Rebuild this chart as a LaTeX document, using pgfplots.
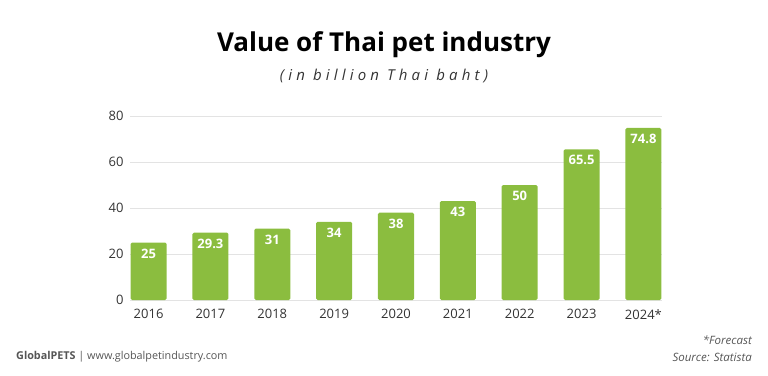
\documentclass[border=0pt]{standalone}
\usepackage{fontspec}
\setmainfont{Open Sans}
\usepackage{pgfplots}
\pgfplotsset{compat=1.18}
\definecolor{bargreen}{HTML}{8BBD3F}
\definecolor{gridgray}{HTML}{E3E3E3}
\definecolor{txt}{HTML}{333333}
\definecolor{foot}{HTML}{555555}
\begin{document}
\begin{tikzpicture}[x=1pt,y=1pt]
\path (0,0) rectangle (768,375);
\begin{axis}[
  at={(130pt,75pt)}, anchor=south west,
  scale only axis, width=532pt, height=184pt,
  xmin=-0.3, xmax=8.3, ymin=0, ymax=80,
  ytick={0,20,40,60,80},
  xtick={0,...,8},
  xticklabels={2016,2017,2018,2019,2020,2021,2022,2023,2024*},
  axis line style={draw=none},
  major tick length=0pt,
  ymajorgrids, grid style={gridgray, line width=0.8pt},
  /pgf/number format/assume math mode=true,
  tick label style={font=\fontsize{13}{15}\selectfont, text=txt},
  yticklabel style={xshift=-3pt},
  xticklabel style={yshift=-6pt},
  ybar, bar width=36pt,
  nodes near coords={\pgfmathprintnumber{\pgfplotspointmeta}},
  every node near coord/.append style={anchor=north, inner sep=0pt, yshift=-6pt, text=white, font=\fontsize{13}{15}\selectfont\bfseries},
  clip=false,
]
\addplot[fill=bargreen, draw=none, rounded corners=1.5pt] coordinates {
(0,25) (1,29.3) (2,31) (3,34) (4,38) (5,43) (6,50) (7,65.5) (8,74.8)};
\end{axis}
\node[text=black, font=\fontsize{26}{30}\selectfont\bfseries] at (384,330) {Value of Thai pet industry};
\node[text=txt, font=\fontsize{15}{18}\selectfont\itshape\addfontfeature{LetterSpace=28}] at (384,299) {(in billion Thai baht)};
\node[anchor=west, text=foot, font=\fontsize{10.8}{13}\selectfont, inner sep=0pt] at (16,18) {\textbf{GlobalPETS} | www.globalpetindustry.com};
\node[anchor=east, text=foot, font=\fontsize{11.5}{14}\selectfont\itshape, inner sep=0pt] at (752,35) {*Forecast};
\node[anchor=east, text=foot, font=\fontsize{11.5}{14}\selectfont\itshape, inner sep=0pt] at (752,18) {Source: Statista};
\end{tikzpicture}
\end{document}
